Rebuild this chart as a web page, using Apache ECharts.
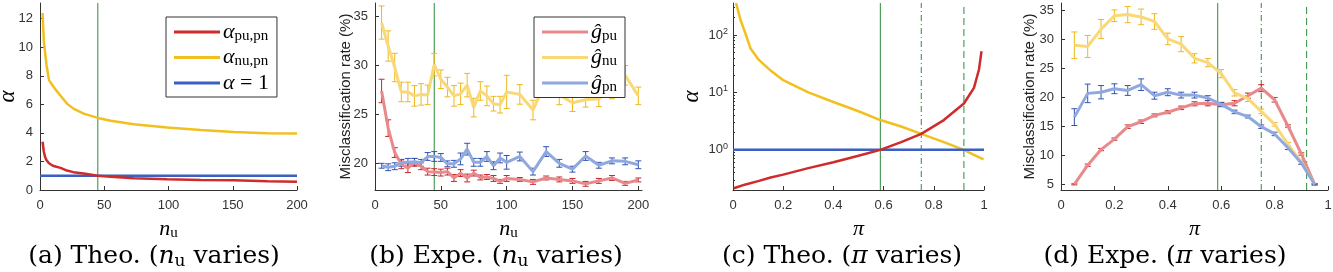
<!DOCTYPE html>
<html>
<head>
<meta charset="utf-8">
<script src="https://cdn.jsdelivr.net/npm/echarts@6.0.0/dist/echarts.min.js"></script>
<style>
  html, body { margin: 0; padding: 0; background: #fff; }
  #show_picture { width: 1333px; height: 272px; }
</style>
</head>
<body>
<div id="show_picture"></div>
<script>
// (a) theory, n_u varies
const nA = [2, 3, 4, 5, 7, 10, 12, 16, 21, 26, 34, 45, 55, 73, 99, 125, 151, 177, 200];
const aNu = [12.4, 10.4, 9.6, 8.8, 7.7, 7.3, 7.05, 6.6, 6.05, 5.7, 5.35, 5.05, 4.85, 4.6, 4.38, 4.2, 4.06, 3.97, 3.95];
const aPu = [3.38, 2.68, 2.3, 2.1, 1.87, 1.7, 1.65, 1.55, 1.36, 1.25, 1.15, 1.0, 0.92, 0.82, 0.75, 0.7, 0.68, 0.62, 0.58];

// (b) experiments, n_u varies
const nB = [5, 10, 15, 20, 25, 30, 35, 40, 45, 50, 55, 60, 65, 70, 75, 80, 85, 90, 95, 100, 110, 120, 130, 140, 150, 160, 170, 180, 190, 200];
const bPu = [27.4, 23.6, 21.1, 19.9, 19.5, 20.1, 19.7, 19.15, 19.1, 19.05, 19.15, 18.5, 19.0, 18.5, 19.0, 18.55, 18.6, 18.45, 18.15, 18.45, 18.35, 18.1, 18.5, 18.35, 18.2, 17.9, 18.2, 18.5, 17.95, 18.3];
const bPuErr = [1.2, 0.85, 0.5, 0.45, 0.45, 0.4, 0.35, 0.35, 0.35, 0.35, 0.35, 0.35, 0.35, 0.4, 0.3, 0.25, 0.25, 0.3, 0.2, 0.3, 0.2, 0.25, 0.2, 0.25, 0.25, 0.25, 0.25, 0.25, 0.2, 0.2];
const bNu = [34.4, 32.0, 29.8, 27.3, 27.3, 26.9, 27.05, 27.0, 30.1, 28.6, 27.8, 26.9, 27.1, 28.0, 25.7, 27.4, 26.9, 26.1, 26.0, 27.3, 27.05, 25.45, 28.5, 27.0, 26.2, 26.5, 26.6, 27.5, 29.0, 26.9];
const bNuErr = [1.7, 1.55, 1.45, 1.0, 1.0, 1.05, 1.1, 1.0, 1.15, 0.95, 1.0, 1.05, 1.1, 1.2, 0.95, 0.95, 1.0, 0.75, 0.85, 1.7, 1.0, 1.0, 1.0, 1.0, 0.9, 0.75, 0.8, 0.9, 1.0, 0.9];
const bPn = [19.75, 19.6, 19.7, 20.05, 20.1, 20.15, 20.05, 20.7, 20.7, 20.6, 19.95, 19.95, 20.45, 21.45, 20.1, 20.1, 20.7, 19.75, 20.55, 20.1, 20.7, 19.15, 21.2, 20.0, 19.4, 20.75, 19.8, 20.25, 20.2, 19.85];
const bPnErr = [0.25, 0.35, 0.35, 0.35, 0.4, 0.35, 0.35, 0.4, 0.5, 0.4, 0.3, 0.35, 0.6, 0.6, 0.4, 0.4, 0.5, 0.4, 0.5, 0.7, 0.45, 0.35, 0.5, 0.4, 0.3, 0.45, 0.3, 0.3, 0.35, 0.4];

// (c) theory, pi varies (log scale)
const piNu = [0.012, 0.03, 0.05, 0.07, 0.1, 0.15, 0.2, 0.3, 0.4, 0.5, 0.587, 0.67, 0.75, 0.84, 0.92, 0.96, 0.998];
const cNu = [360, 182, 105, 58, 38, 24, 16.3, 10, 6.8, 4.7, 3.3, 2.55, 1.9, 1.36, 1.0, 0.82, 0.68];
const piPu = [0.003, 0.05, 0.1, 0.15, 0.2, 0.3, 0.4, 0.5, 0.587, 0.67, 0.75, 0.84, 0.92, 0.96, 0.98, 0.99];
const cPu = [0.215, 0.25, 0.285, 0.33, 0.37, 0.48, 0.61, 0.79, 1.0, 1.36, 1.9, 3.3, 6.4, 12, 25, 52];

// (d) experiments, pi varies
const piD = [0.05, 0.1, 0.15, 0.2, 0.25, 0.3, 0.35, 0.4, 0.45, 0.5, 0.55, 0.6, 0.65, 0.7, 0.75, 0.8, 0.85, 0.9, 0.95];
const dPu = [5.0, 8.3, 11.0, 12.8, 14.95, 15.8, 16.9, 17.45, 18.2, 18.9, 19.0, 18.75, 19.0, 20.3, 21.6, 19.6, 15.07, 10.24, 5.0];
const dPuErr = [0.1, 0.2, 0.2, 0.2, 0.3, 0.3, 0.25, 0.25, 0.3, 0.35, 0.45, 0.35, 0.45, 0.45, 0.6, 0.4, 0.2, 0.2, 0.1];
const dNu = [29.0, 28.8, 31.8, 34.1, 34.3, 33.9, 33.1, 30.1, 29.2, 26.75, 26.0, 24.1, 20.8, 19.8, 17.6, 15.35, 11.9, 8.85, 5.0];
const dNuErr = [2.3, 1.9, 1.65, 1.0, 1.4, 1.35, 1.35, 1.0, 1.3, 0.8, 0.7, 0.7, 0.55, 0.5, 0.4, 0.3, 0.3, 0.35, 0.1];
const dPn = [16.6, 20.7, 20.9, 21.5, 21.2, 22.2, 20.3, 20.9, 20.4, 20.4, 19.9, 18.8, 17.5, 16.7, 14.95, 13.7, 11.3, 8.7, 5.0];
const dPnErr = [1.45, 1.6, 1.15, 0.85, 0.85, 1.0, 0.6, 0.6, 0.5, 0.5, 0.4, 0.35, 0.3, 0.25, 0.3, 0.3, 0.3, 0.25, 0.1];

// vertical reference lines
const nRef = 45;
const piRef = [0.587, 0.75, 0.92];

// y ranges of the four panels
const yRangeA = [0, 13.1];
const yRangeB = [17.27, 36.4];
const yRangeC = [0.2, 360];
const yRangeD = [4.02, 36.3];

const RED = '#cf2b2b', YEL = '#f2c01e', BLU = '#3b5fc2', GRN = '#2c8c3c';
const RED_L = '#e88a8c', YEL_L = '#f8d877', BLU_L = '#8fa9de';
const RED_E = '#c8262a', YEL_E = '#efb81c', BLU_E = '#3353b4';
const SANS = 'Liberation Sans', SERIF = 'Liberation Serif', CAP = 'DejaVu Serif';

let myChart = echarts.init(document.getElementById('show_picture'));

function zip(xs, ys) { return xs.map((x, i) => [x, ys[i]]); }
function bars(xs, ys, es) { return xs.map((x, i) => [x, ys[i] - es[i], ys[i] + es[i]]); }

function errRender(color) {
    return function (params, api) {
        const x = api.value(0);
        const p1 = api.coord([x, api.value(1)]);
        const p2 = api.coord([x, api.value(2)]);
        const w = 3;
        const st = { stroke: color, lineWidth: 1 };
        return {
            type: 'group',
            children: [
                { type: 'line', shape: { x1: p1[0], y1: p1[1], x2: p2[0], y2: p2[1] }, style: st },
                { type: 'line', shape: { x1: p1[0] - w, y1: p1[1], x2: p1[0] + w, y2: p1[1] }, style: st },
                { type: 'line', shape: { x1: p2[0] - w, y1: p2[1], x2: p2[0] + w, y2: p2[1] }, style: st }
            ]
        };
    };
}

const serifRich = {
    i: { fontFamily: SERIF, fontStyle: 'italic', fontSize: 22, color: '#000', lineHeight: 24 },
    r: { fontFamily: SERIF, fontSize: 22, color: '#000', lineHeight: 24 },
    s: { fontFamily: SERIF, fontSize: 15, color: '#000', lineHeight: 8, verticalAlign: 'bottom' }
};

function xAx(grid, min, max, ticks, name) {
    return {
        type: 'value', gridIndex: grid, min: min, max: max,
        axisLine: { show: true, onZero: false, lineStyle: { color: '#333', width: 1 } },
        axisTick: { show: true, inside: true, length: 4, customValues: ticks, lineStyle: { color: '#333' } },
        axisLabel: { customValues: ticks, color: '#333', fontSize: 13, fontFamily: SANS, margin: 9 },
        splitLine: { show: false },
        name: name, nameLocation: 'middle', nameGap: 27, nameMoveOverlap: false,
        nameTextStyle: { rich: serifRich }
    };
}

function yAx(grid, range, ticks, name, nameGap, nameStyle) {
    return {
        type: 'value', gridIndex: grid, min: range[0], max: range[1],
        axisLine: { show: true, onZero: false, lineStyle: { color: '#333', width: 1 } },
        axisTick: { show: true, inside: true, length: 4, customValues: ticks, lineStyle: { color: '#333' } },
        axisLabel: { customValues: ticks, color: '#333', fontSize: 13, fontFamily: SANS, margin: 7 },
        splitLine: { show: false },
        name: name, nameLocation: 'middle', nameRotate: 90, nameGap: nameGap, nameMoveOverlap: false,
        nameTextStyle: nameStyle
    };
}

const alphaStyle = { fontFamily: SERIF, fontStyle: 'italic', fontSize: 23, color: '#000' };
const rateStyle = { fontFamily: SANS, fontSize: 15, color: '#222' };

// green vertical marker drawn as a two-point line series through the axes
function refLine(xi, yi, x, range, type) {
    return {
        type: 'line', xAxisIndex: xi, yAxisIndex: yi, silent: true, z: 1,
        data: [[x, range[0]], [x, range[1]]],
        showSymbol: false, lineStyle: { color: GRN, width: 1, type: type }
    };
}

function theoLine(name, xi, yi, data, color) {
    return {
        name: name, type: 'line', xAxisIndex: xi, yAxisIndex: yi, data: data,
        showSymbol: false, smooth: false, lineStyle: { color: color, width: 2.5 }, itemStyle: { color: color }
    };
}
function expeLine(name, xi, yi, data, color) {
    return {
        name: name, type: 'line', xAxisIndex: xi, yAxisIndex: yi, data: data,
        showSymbol: false, lineStyle: { color: color, width: 3 }, itemStyle: { color: color }
    };
}
function errSeries(xi, yi, data, color) {
    return {
        type: 'custom', xAxisIndex: xi, yAxisIndex: yi, data: data, silent: true,
        renderItem: errRender(color), encode: { x: 0, y: [1, 2] }, z: 3
    };
}

const legendRich = {
    a: { fontFamily: SERIF, fontStyle: 'italic', fontSize: 22, color: '#000', lineHeight: 23 },
    r: { fontFamily: SERIF, fontSize: 22, color: '#000', lineHeight: 23 },
    s: { fontFamily: SERIF, fontSize: 15, color: '#000', lineHeight: 8, verticalAlign: 'bottom' }
};
const legendText = {
    'α_pu,pn': '{a|α}{s|pu,pn}',
    'α_nu,pn': '{a|α}{s|nu,pn}',
    'α=1': '{a|α}{r| = 1}',
    'g_pu': '{a|ĝ}{s|pu}',
    'g_nu': '{a|ĝ}{s|nu}',
    'g_pn': '{a|ĝ}{s|pn}'
};
function legendBox(left, names) {
    return {
        left: left, top: 17, orient: 'vertical', data: names,
        icon: 'rect', itemWidth: 46, itemHeight: 3, itemGap: 3,
        padding: [4, 8, 3, 8],
        borderColor: '#333', borderWidth: 1, backgroundColor: '#fff',
        formatter: n => legendText[n],
        textStyle: { rich: legendRich, padding: [0, 0, 0, -2] },
        selectedMode: false
    };
}

function caption(x, letter, word, italicPart, sub) {
    return {
        type: 'text', x: x, y: 256,
        style: {
            text: '{r|(' + letter + ') ' + word + ' (}{i|' + italicPart + '}' + (sub ? '{s|' + sub + '}' : '') + '{r| varies)}',
            align: 'center', verticalAlign: 'middle',
            rich: {
                r: { fontFamily: CAP, fontSize: 25, color: '#000', lineHeight: 28 },
                i: { fontFamily: CAP, fontStyle: 'italic', fontSize: 25, color: '#000', lineHeight: 28 },
                s: { fontFamily: CAP, fontSize: 17, color: '#000', lineHeight: 12, verticalAlign: 'bottom' }
            }
        }
    };
}

function panel(left, width) {
    return { left: left, top: 3, width: width, height: 187, containLabel: false, outerBoundsMode: 'none' };
}

const cMajor = [1, 10, 100];
const cMinor = [0.3, 0.4, 0.5, 0.6, 0.7, 0.8, 0.9, 2, 3, 4, 5, 6, 7, 8, 9, 20, 30, 40, 50, 60, 70, 80, 90, 200, 300];
const dashDot = [6, 3, 1, 3], dashed = [7, 4];

let option = {
    animation: false,
    backgroundColor: '#fff',
    grid: [panel(40, 257), panel(375, 267), panel(733, 251), panel(1061, 267)],
    xAxis: [
        xAx(0, 0, 200, [0, 50, 100, 150, 200], '{i|n}{s|u}'),
        xAx(1, 0, 202.8, [0, 50, 100, 150, 200], '{i|n}{s|u}'),
        xAx(2, 0, 1, [0, 0.2, 0.4, 0.6, 0.8, 1], '{i|π}'),
        xAx(3, 0, 1, [0, 0.2, 0.4, 0.6, 0.8, 1], '{i|π}')
    ],
    yAxis: [
        yAx(0, yRangeA, [0, 2, 4, 6, 8, 10, 12], 'α', 21, alphaStyle),
        yAx(1, yRangeB, [20, 25, 30, 35], 'Misclassification rate (%)', 22, rateStyle),
        {
            type: 'log', logBase: 10, gridIndex: 2, min: yRangeC[0], max: yRangeC[1],
            axisLine: { show: true, onZero: false, lineStyle: { color: '#333', width: 1 } },
            axisTick: { show: true, inside: true, length: 4, customValues: cMajor, lineStyle: { color: '#333' } },
            axisLabel: {
                customValues: cMajor, color: '#333', fontFamily: SANS, margin: 5,
                formatter: v => '{b|10}{e|' + Math.round(Math.log10(v)) + '}',
                rich: {
                    b: { fontFamily: SANS, fontSize: 13, color: '#333', lineHeight: 16 },
                    e: { fontFamily: SANS, fontSize: 9, color: '#333', lineHeight: 8, verticalAlign: 'top' }
                }
            },
            splitLine: { show: false },
            name: 'α', nameLocation: 'middle', nameRotate: 90, nameGap: 30, nameMoveOverlap: false,
            nameTextStyle: alphaStyle
        },
        {
            type: 'log', logBase: 10, gridIndex: 2, min: yRangeC[0], max: yRangeC[1], position: 'left', offset: 0,
            axisLine: { show: false },
            axisTick: { show: true, inside: true, length: 2, customValues: cMinor, lineStyle: { color: '#333' } },
            axisLabel: { show: false },
            splitLine: { show: false }
        },
        yAx(3, yRangeD, [5, 10, 15, 20, 25, 30, 35], 'Misclassification rate (%)', 24, rateStyle)
    ],
    legend: [
        legendBox(166, ['α_pu,pn', 'α_nu,pn', 'α=1']),
        legendBox(534, ['g_pu', 'g_nu', 'g_pn'])
    ],
    series: [
        // (a)
        refLine(0, 0, nRef, yRangeA, 'solid'),
        theoLine('α=1', 0, 0, [[0, 1], [200, 1]], BLU),
        theoLine('α_pu,pn', 0, 0, zip(nA, aPu), RED),
        theoLine('α_nu,pn', 0, 0, zip(nA, aNu), YEL),
        // (b)
        refLine(1, 1, nRef, yRangeB, 'solid'),
        expeLine('g_pu', 1, 1, zip(nB, bPu), RED_L),
        expeLine('g_nu', 1, 1, zip(nB, bNu), YEL_L),
        expeLine('g_pn', 1, 1, zip(nB, bPn), BLU_L),
        errSeries(1, 1, bars(nB, bPu, bPuErr), RED_E),
        errSeries(1, 1, bars(nB, bNu, bNuErr), YEL_E),
        errSeries(1, 1, bars(nB, bPn, bPnErr), BLU_E),
        // (c)
        refLine(2, 2, piRef[0], yRangeC, 'solid'),
        refLine(2, 2, piRef[1], yRangeC, dashDot),
        refLine(2, 2, piRef[2], yRangeC, dashed),
        theoLine('c_nu', 2, 2, zip(piNu, cNu), YEL),
        theoLine('c_pn', 2, 2, [[0, 1], [1, 1]], BLU),
        theoLine('c_pu', 2, 2, zip(piPu, cPu), RED),
        // (d)
        refLine(3, 4, piRef[0], yRangeD, 'solid'),
        refLine(3, 4, piRef[1], yRangeD, dashDot),
        refLine(3, 4, piRef[2], yRangeD, dashed),
        expeLine('d_pu', 3, 4, zip(piD, dPu), RED_L),
        expeLine('d_nu', 3, 4, zip(piD, dNu), YEL_L),
        expeLine('d_pn', 3, 4, zip(piD, dPn), BLU_L),
        errSeries(3, 4, bars(piD, dPu, dPuErr), RED_E),
        errSeries(3, 4, bars(piD, dNu, dNuErr), YEL_E),
        errSeries(3, 4, bars(piD, dPn, dPnErr), BLU_E)
    ],
    graphic: [
        caption(154, 'a', 'Theo.', 'n', 'u'),
        caption(496, 'b', 'Expe.', 'n', 'u'),
        caption(842, 'c', 'Theo.', 'π', ''),
        caption(1165, 'd', 'Expe.', 'π', '')
    ]
};

option && myChart.setOption(option);
</script>
</body>
</html>
